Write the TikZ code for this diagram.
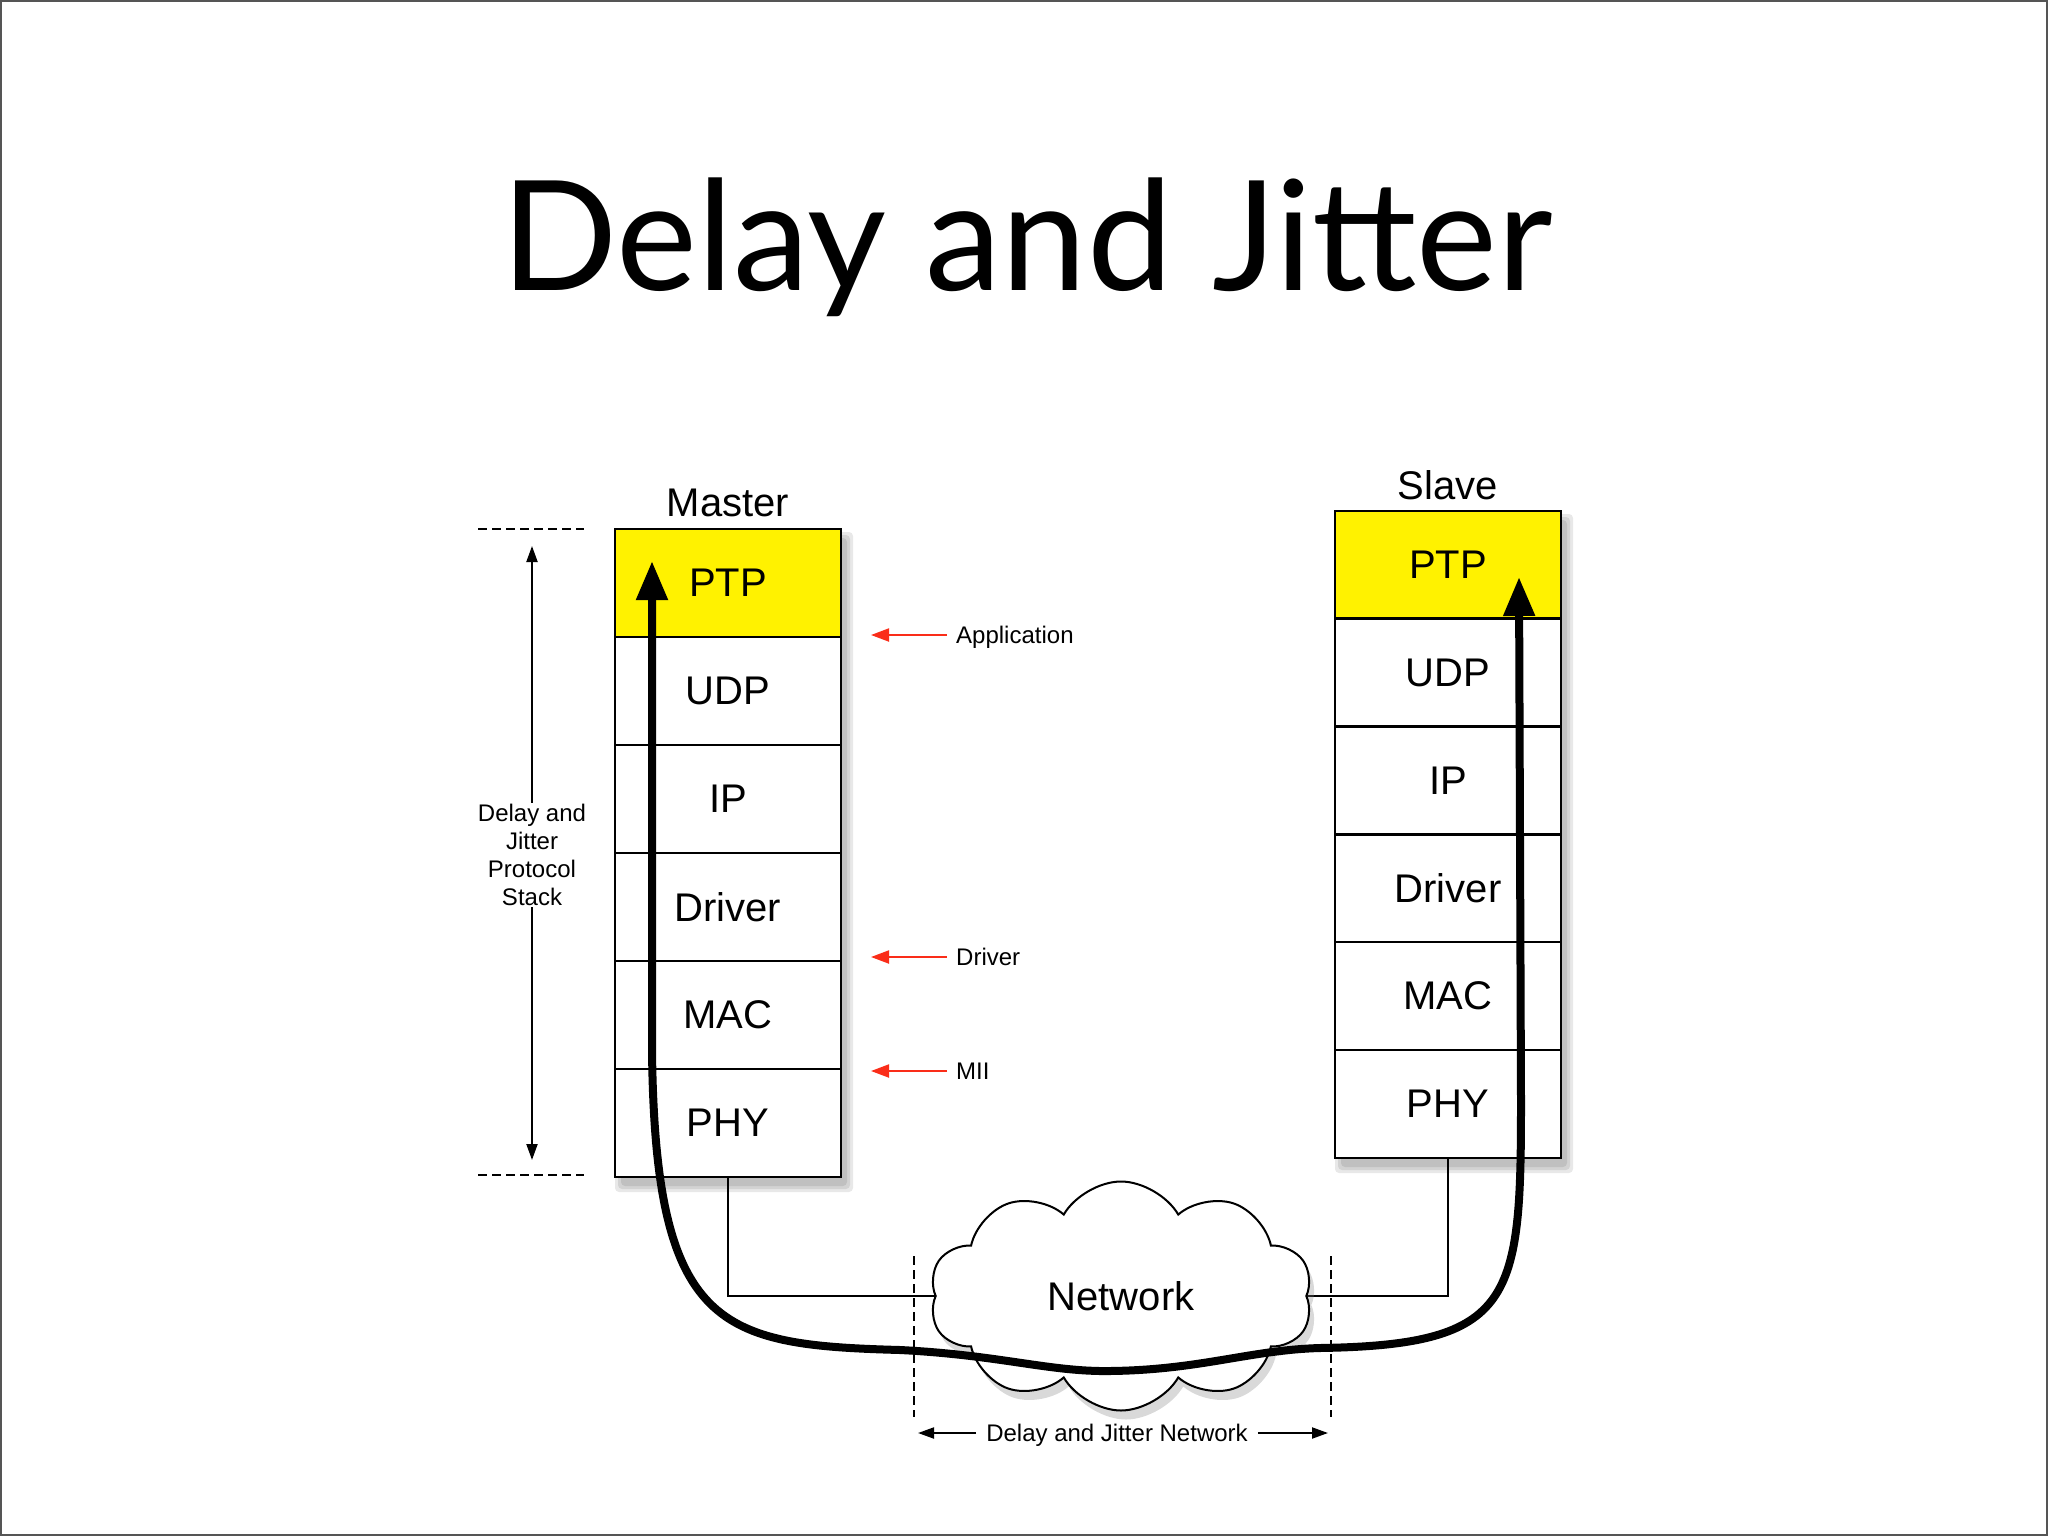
\documentclass[tikz,border=0pt]{standalone}
\usepackage{fontspec}
\setmainfont{Liberation Sans}
\newfontfamily\titlefont{Lato}
\usetikzlibrary{arrows.meta, positioning, shapes.symbols, shadows}
\definecolor{annored}{RGB}{250,45,25}
\definecolor{framegray}{RGB}{85,85,85}
\newcommand{\layerfont}{\fontsize{40}{46}\selectfont}
\newcommand{\notefont}{\fontsize{24}{28}\selectfont}

\begin{document}
\begin{tikzpicture}[x=1pt,y=-1pt,
  layer/.style={draw, line width=2.5pt, minimum width=226pt, minimum height=108pt, inner sep=0pt, font=\layerfont},
  note/.style={font=\notefont, inner sep=1pt},
  tag/.style={font=\notefont, text height=17pt, text depth=0pt, inner ysep=1pt, inner xsep=9pt},
  redarrow/.style={annored, line width=2pt, -{Triangle[length=18pt,width=13pt]}},
  dimarrow/.style={line width=2pt, -{Triangle[length=16pt,width=11pt]}},
  guide/.style={line width=2pt, dash pattern=on 9pt off 5pt}]
\useasboundingbox (0,0) rectangle (2048,1536);
\draw[framegray, line width=4pt] (0,0) rectangle (2048,1536);

\node[anchor=base, font=\titlefont\fontsize{153}{160}\selectfont] (title) at (1027,290) {Delay and Jitter};

% Stack shadows
\foreach \x/\y/\h in {615/529/648, 1335/511/647} {
    \foreach \d in {0,3,6} {
        \fill[black, opacity=0.09, rounded corners=4pt] (\x+6-\d,\y+9-\d) rectangle (\x+232+\d,\y+\h+9+\d);
    }
}
% Layers
\foreach \lbl/\col [count=\i] in {PTP/yellow,UDP/white,IP/white,Driver/white,MAC/white,PHY/white} {
    \node[layer, fill=\col] (m\i) at (728, {529+(\i-0.5)*108}) {\lbl};
    \node[layer, fill=\col] (s\i) at (1448, {511+(\i-0.5)*107.8}) {\lbl};
}
\node[font=\layerfont, inner sep=0pt, above=11pt of m1] (master) {Master};
\node[font=\layerfont, inner sep=0pt, above=10pt of s1] (slave) {Slave};

% Annotations
\foreach \y/\txt/\nm in {635/Application/app, 957/Driver/drv, 1071/MII/mii} {
    \node[tag, anchor=west] (\nm) at (947,\y) {\txt};
    \coordinate (\nm tip) at (871,\y);
    \draw[redarrow] (\nm) -- (\nm tip);
}

% Protocol stack extent
\draw[guide] (478,529) -- (584,529);
\draw[guide] (478,1175) -- (584,1175);
\node[note, align=center] (stacklbl) at (532,855) {Delay and\\Jitter\\Protocol\\Stack};
\coordinate (stacktop) at (532,546);
\coordinate (stackbot) at (532,1160);
\draw[dimarrow] (stacklbl) -- (stacktop);
\draw[dimarrow] (stacklbl) -- (stackbot);

% Network
\draw[line width=2pt] (m6.south) |- (1121,1296);
\draw[line width=2pt] (s6.south) |- (1121,1296);
\node[cloud, draw, line width=2pt, fill=white, cloud puffs=10, cloud puff arc=120, aspect=1.7,
      minimum width=383pt, minimum height=229pt, inner sep=0pt, font=\layerfont,
      drop shadow={opacity=0.3, shadow xshift=5pt, shadow yshift=-9pt}] (net) at (1121,1296) {Network};
\draw[guide] (914,1256) -- (914,1417);
\draw[guide] (1331,1256) -- (1331,1417);
\node[tag, inner xsep=10pt] (netlbl) at (1117,1433) {Delay and Jitter Network};
\coordinate (netl) at (918,1433);
\coordinate (netr) at (1328,1433);
\draw[dimarrow] (netlbl) -- (netl);
\draw[dimarrow] (netlbl) -- (netr);

% Timing path
\coordinate (mtip) at (652,561);
\coordinate (stip) at (1519,577);
\draw[line width=8pt, {Triangle[length=39pt,width=30pt]}-{Triangle[length=39pt,width=30pt]}]
    (mtip) -- (652,1050) .. controls (655,1330) and (720,1345) .. (900,1350)
    .. controls (1000,1355) and (1050,1372) .. (1110,1371)
    .. controls (1200,1370) and (1250,1350) .. (1320,1348)
    .. controls (1515,1345) and (1521,1300) .. (1521,1100) -- (stip);
\end{tikzpicture}
\end{document}
